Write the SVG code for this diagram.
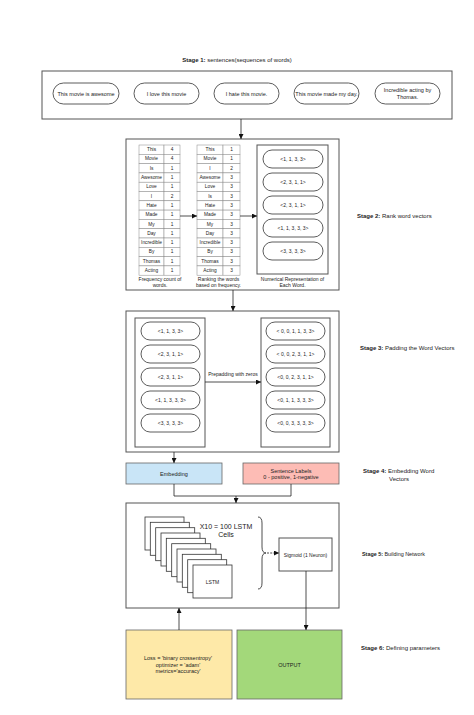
<svg xmlns="http://www.w3.org/2000/svg" width="474" height="715" viewBox="0 0 474 715">
<defs>
<marker id="arr" viewBox="0 0 10 10" refX="10" refY="5" markerWidth="5" markerHeight="5" markerUnits="userSpaceOnUse" orient="auto">
<path d="M0,0 L10,5 L0,10 z" fill="#111"/>
</marker>
<style>
text{font-family:"Liberation Sans",Arial,sans-serif;fill:#222;}
.lbl{font-size:6px;}
.b{font-weight:bold;}
.box{fill:#fff;stroke:#555;stroke-width:1;}
.pill{fill:#fff;stroke:#333;stroke-width:0.8;}
.pt{font-size:5.5px;text-anchor:middle;dominant-baseline:central;}
.vt{font-size:5px;text-anchor:middle;dominant-baseline:central;}
.cell{fill:#fff;stroke:#888;stroke-width:0.5;}
.tt{font-size:4.8px;text-anchor:middle;dominant-baseline:central;}
.cap{font-size:5px;text-anchor:middle;}
.ln{fill:none;stroke:#222;stroke-width:0.8;}
.lstm{fill:#fff;stroke:#333;stroke-width:0.8;}
</style>
</defs>

<g id="stage1-label"><text class="lbl" x="237" y="62" text-anchor="middle"><tspan class="b">Stage 1:</tspan> sentences(sequences of words)</text></g>

<g id="stage1">
<rect class="box" x="42" y="71" width="410" height="48"/>
<rect class="pill" x="53" y="83" width="66" height="21" rx="10.5"/>
<text class="pt" x="86" y="93.5">This movie is awesome</text>
<rect class="pill" x="134" y="83" width="65" height="21" rx="10.5"/>
<text class="pt" x="166.5" y="93.5">I love this movie</text>
<rect class="pill" x="214" y="83" width="65" height="21" rx="10.5"/>
<text class="pt" x="246.5" y="93.5">I hate this movie.</text>
<rect class="pill" x="294" y="83" width="65" height="21" rx="10.5"/>
<text class="pt" x="326.5" y="93.5">This movie made my day.</text>
<rect class="pill" x="375" y="83" width="65" height="21" rx="10.5"/>
<text class="pt" x="407.5" y="90">Incredible acting by</text>
<text class="pt" x="407.5" y="97">Thomas.</text>
</g>

<g id="stage2">
<rect class="box" x="126" y="139" width="213" height="151"/>
<g id="freq-table">
<g class="rows">
<rect class="cell" x="139" y="145" width="25" height="9.3"/><rect class="cell" x="164" y="145" width="16" height="9.3"/>
<rect class="cell" x="139" y="154.3" width="25" height="9.3"/><rect class="cell" x="164" y="154.3" width="16" height="9.3"/>
<rect class="cell" x="139" y="163.6" width="25" height="9.3"/><rect class="cell" x="164" y="163.6" width="16" height="9.3"/>
<rect class="cell" x="139" y="172.9" width="25" height="9.3"/><rect class="cell" x="164" y="172.9" width="16" height="9.3"/>
<rect class="cell" x="139" y="182.2" width="25" height="9.3"/><rect class="cell" x="164" y="182.2" width="16" height="9.3"/>
<rect class="cell" x="139" y="191.5" width="25" height="9.3"/><rect class="cell" x="164" y="191.5" width="16" height="9.3"/>
<rect class="cell" x="139" y="200.8" width="25" height="9.3"/><rect class="cell" x="164" y="200.8" width="16" height="9.3"/>
<rect class="cell" x="139" y="210.1" width="25" height="9.3"/><rect class="cell" x="164" y="210.1" width="16" height="9.3"/>
<rect class="cell" x="139" y="219.4" width="25" height="9.3"/><rect class="cell" x="164" y="219.4" width="16" height="9.3"/>
<rect class="cell" x="139" y="228.7" width="25" height="9.3"/><rect class="cell" x="164" y="228.7" width="16" height="9.3"/>
<rect class="cell" x="139" y="238" width="25" height="9.3"/><rect class="cell" x="164" y="238" width="16" height="9.3"/>
<rect class="cell" x="139" y="247.3" width="25" height="9.3"/><rect class="cell" x="164" y="247.3" width="16" height="9.3"/>
<rect class="cell" x="139" y="256.6" width="25" height="9.3"/><rect class="cell" x="164" y="256.6" width="16" height="9.3"/>
<rect class="cell" x="139" y="265.9" width="25" height="9.3"/><rect class="cell" x="164" y="265.9" width="16" height="9.3"/>
</g>
<text class="tt" x="151.5" y="149.65">This</text><text class="tt" x="172" y="149.65">4</text>
<text class="tt" x="151.5" y="158.95">Movie</text><text class="tt" x="172" y="158.95">4</text>
<text class="tt" x="151.5" y="168.25">Is</text><text class="tt" x="172" y="168.25">1</text>
<text class="tt" x="151.5" y="177.55">Awesome</text><text class="tt" x="172" y="177.55">1</text>
<text class="tt" x="151.5" y="186.85">Love</text><text class="tt" x="172" y="186.85">1</text>
<text class="tt" x="151.5" y="196.15">I</text><text class="tt" x="172" y="196.15">2</text>
<text class="tt" x="151.5" y="205.45">Hate</text><text class="tt" x="172" y="205.45">1</text>
<text class="tt" x="151.5" y="214.75">Made</text><text class="tt" x="172" y="214.75">1</text>
<text class="tt" x="151.5" y="224.05">My</text><text class="tt" x="172" y="224.05">1</text>
<text class="tt" x="151.5" y="233.35">Day</text><text class="tt" x="172" y="233.35">1</text>
<text class="tt" x="151.5" y="242.65">Incredible</text><text class="tt" x="172" y="242.65">1</text>
<text class="tt" x="151.5" y="251.95">By</text><text class="tt" x="172" y="251.95">1</text>
<text class="tt" x="151.5" y="261.25">Thomas</text><text class="tt" x="172" y="261.25">1</text>
<text class="tt" x="151.5" y="270.55">Acting</text><text class="tt" x="172" y="270.55">1</text>
<text class="cap" x="160" y="281">Frequency count of</text>
<text class="cap" x="160" y="287">words.</text>
</g>
<g id="rank-table">
<g class="rows">
<rect class="cell" x="197" y="145" width="26" height="9.3"/><rect class="cell" x="223" y="145" width="17" height="9.3"/>
<rect class="cell" x="197" y="154.3" width="26" height="9.3"/><rect class="cell" x="223" y="154.3" width="17" height="9.3"/>
<rect class="cell" x="197" y="163.6" width="26" height="9.3"/><rect class="cell" x="223" y="163.6" width="17" height="9.3"/>
<rect class="cell" x="197" y="172.9" width="26" height="9.3"/><rect class="cell" x="223" y="172.9" width="17" height="9.3"/>
<rect class="cell" x="197" y="182.2" width="26" height="9.3"/><rect class="cell" x="223" y="182.2" width="17" height="9.3"/>
<rect class="cell" x="197" y="191.5" width="26" height="9.3"/><rect class="cell" x="223" y="191.5" width="17" height="9.3"/>
<rect class="cell" x="197" y="200.8" width="26" height="9.3"/><rect class="cell" x="223" y="200.8" width="17" height="9.3"/>
<rect class="cell" x="197" y="210.1" width="26" height="9.3"/><rect class="cell" x="223" y="210.1" width="17" height="9.3"/>
<rect class="cell" x="197" y="219.4" width="26" height="9.3"/><rect class="cell" x="223" y="219.4" width="17" height="9.3"/>
<rect class="cell" x="197" y="228.7" width="26" height="9.3"/><rect class="cell" x="223" y="228.7" width="17" height="9.3"/>
<rect class="cell" x="197" y="238" width="26" height="9.3"/><rect class="cell" x="223" y="238" width="17" height="9.3"/>
<rect class="cell" x="197" y="247.3" width="26" height="9.3"/><rect class="cell" x="223" y="247.3" width="17" height="9.3"/>
<rect class="cell" x="197" y="256.6" width="26" height="9.3"/><rect class="cell" x="223" y="256.6" width="17" height="9.3"/>
<rect class="cell" x="197" y="265.9" width="26" height="9.3"/><rect class="cell" x="223" y="265.9" width="17" height="9.3"/>
</g>
<text class="tt" x="210" y="149.65">This</text><text class="tt" x="231.5" y="149.65">1</text>
<text class="tt" x="210" y="158.95">Movie</text><text class="tt" x="231.5" y="158.95">1</text>
<text class="tt" x="210" y="168.25">I</text><text class="tt" x="231.5" y="168.25">2</text>
<text class="tt" x="210" y="177.55">Awesome</text><text class="tt" x="231.5" y="177.55">3</text>
<text class="tt" x="210" y="186.85">Love</text><text class="tt" x="231.5" y="186.85">3</text>
<text class="tt" x="210" y="196.15">Is</text><text class="tt" x="231.5" y="196.15">3</text>
<text class="tt" x="210" y="205.45">Hate</text><text class="tt" x="231.5" y="205.45">3</text>
<text class="tt" x="210" y="214.75">Made</text><text class="tt" x="231.5" y="214.75">3</text>
<text class="tt" x="210" y="224.05">My</text><text class="tt" x="231.5" y="224.05">3</text>
<text class="tt" x="210" y="233.35">Day</text><text class="tt" x="231.5" y="233.35">3</text>
<text class="tt" x="210" y="242.65">Incredible</text><text class="tt" x="231.5" y="242.65">3</text>
<text class="tt" x="210" y="251.95">By</text><text class="tt" x="231.5" y="251.95">3</text>
<text class="tt" x="210" y="261.25">Thomas</text><text class="tt" x="231.5" y="261.25">3</text>
<text class="tt" x="210" y="270.55">Acting</text><text class="tt" x="231.5" y="270.55">3</text>
<text class="cap" x="218.5" y="281">Ranking the words</text>
<text class="cap" x="218.5" y="287">based on frequency.</text>
</g>
<g id="numeric-rep">
<rect class="box" x="257" y="145" width="71" height="129"/>
<rect class="pill" x="263" y="150" width="60" height="18" rx="9"/><text class="vt" x="293" y="159">&lt;1, 1, 3, 3&gt;</text>
<rect class="pill" x="263" y="173" width="60" height="18" rx="9"/><text class="vt" x="293" y="182">&lt;2, 3, 1, 1&gt;</text>
<rect class="pill" x="263" y="196" width="60" height="18" rx="9"/><text class="vt" x="293" y="205">&lt;2, 3, 1, 1&gt;</text>
<rect class="pill" x="263" y="219" width="60" height="18" rx="9"/><text class="vt" x="293" y="228">&lt;1, 1, 3, 3, 3&gt;</text>
<rect class="pill" x="263" y="242" width="60" height="18" rx="9"/><text class="vt" x="293" y="251">&lt;3, 3, 3, 3&gt;</text>
<text class="cap" x="292.5" y="281">Numerical Representation of</text>
<text class="cap" x="292.5" y="287">Each Word.</text>
</g>
</g>
<g id="stage2-label"><text class="lbl" x="357" y="218"><tspan class="b">Stage 2:</tspan> Rank word vectors</text></g>

<g id="stage3">
<rect class="box" x="126" y="311" width="213" height="141"/>
<g id="unpadded">
<rect class="box" x="135" y="318" width="70" height="129"/>
<rect class="pill" x="141" y="322" width="59" height="18" rx="9"/><text class="vt" x="170.5" y="331">&lt;1, 1, 3, 3&gt;</text>
<rect class="pill" x="141" y="345" width="59" height="18" rx="9"/><text class="vt" x="170.5" y="354">&lt;2, 3, 1, 1&gt;</text>
<rect class="pill" x="141" y="368" width="59" height="18" rx="9"/><text class="vt" x="170.5" y="377">&lt;2, 3, 1, 1&gt;</text>
<rect class="pill" x="141" y="391" width="59" height="18" rx="9"/><text class="vt" x="170.5" y="400">&lt;1, 1, 3, 3, 3&gt;</text>
<rect class="pill" x="141" y="414" width="59" height="18" rx="9"/><text class="vt" x="170.5" y="423">&lt;3, 3, 3, 3&gt;</text>
</g>
<g id="padded">
<rect class="box" x="261" y="318" width="69" height="129"/>
<rect class="pill" x="266" y="322" width="59" height="18" rx="9"/><text class="vt" x="295.5" y="331">&lt; 0, 0, 1, 1, 3, 3&gt;</text>
<rect class="pill" x="266" y="345" width="59" height="18" rx="9"/><text class="vt" x="295.5" y="354">&lt; 0, 0, 2, 3, 1, 1&gt;</text>
<rect class="pill" x="266" y="368" width="59" height="18" rx="9"/><text class="vt" x="295.5" y="377">&lt;0, 0, 2, 3, 1, 1&gt;</text>
<rect class="pill" x="266" y="391" width="59" height="18" rx="9"/><text class="vt" x="295.5" y="400">&lt;0, 1, 1, 3, 3, 3&gt;</text>
<rect class="pill" x="266" y="414" width="59" height="18" rx="9"/><text class="vt" x="295.5" y="423">&lt;0, 0, 3, 3, 3, 3&gt;</text>
</g>
<text class="cap" x="233" y="376">Prepadding with zeros</text>
</g>
<g id="stage3-label"><text class="lbl" x="360" y="350"><tspan class="b">Stage 3:</tspan> Padding the Word Vectors</text></g>

<g id="embedding">
<rect x="126" y="463" width="96" height="21" fill="#c9e5f7" stroke="#666" stroke-width="0.8"/>
<text class="pt" x="174" y="473.5">Embedding</text>
</g>
<g id="sentence-labels">
<rect x="243" y="463" width="96" height="21" fill="#fdbcb5" stroke="#666" stroke-width="0.8"/>
<text class="pt" x="291" y="470.5">Sentence Labels</text>
<text class="pt" x="291" y="477">0 - positive, 1-negative</text>
</g>
<g id="stage4-label">
<text class="lbl" x="363" y="473"><tspan class="b">Stage 4:</tspan> Embedding Word</text>
<text class="lbl" x="399" y="481" text-anchor="middle">Vectors</text>
</g>

<g id="stage5">
<rect class="box" x="126" y="503" width="213" height="105"/>
<g id="lstm-stack">
<rect class="lstm" x="145" y="517" width="39" height="33"/>
<rect class="lstm" x="150.3" y="522.3" width="39" height="33"/>
<rect class="lstm" x="155.7" y="527.7" width="39" height="33"/>
<rect class="lstm" x="161" y="533" width="39" height="33"/>
<rect class="lstm" x="166.3" y="538.3" width="39" height="33"/>
<rect class="lstm" x="171.7" y="543.7" width="39" height="33"/>
<rect class="lstm" x="177" y="549" width="39" height="33"/>
<rect class="lstm" x="182.3" y="554.3" width="39" height="33"/>
<rect class="lstm" x="187.7" y="559.7" width="39" height="33"/>
<rect class="lstm" x="193" y="565" width="39" height="33"/>
<text class="vt" x="212.5" y="581.5">LSTM</text>
</g>
<text x="226" y="529" font-size="7" text-anchor="middle">X10 = 100 LSTM</text>
<text x="226" y="537" font-size="7" text-anchor="middle">Cells</text>
<path class="ln" d="M258,517 Q262,517 262,523 L262,547 Q262,553 266,553 Q262,553 262,559 L262,583 Q262,589 258,589"/>
</g>
<g id="sigmoid">
<rect class="box" x="279" y="538" width="53" height="33"/>
<text class="vt" x="305.5" y="554.5">Sigmoid (1 Neuron)</text>
</g>
<g id="stage5-label"><text x="362" y="556" font-size="5.4"><tspan class="b">Stage 5:</tspan> Building Network</text></g>

<g id="loss">
<rect x="126" y="630" width="106" height="69" fill="#fee9a8" stroke="#666" stroke-width="0.8"/>
<text class="pt" x="178" y="658">Loss = 'binary crossentropy'</text>
<text class="pt" x="178" y="664.5">optimizer = 'adam'</text>
<text class="pt" x="178" y="671">metrics='accuracy'</text>
</g>
<g id="output">
<rect x="237" y="630" width="105" height="69" fill="#a3d87a" stroke="#666" stroke-width="0.8"/>
<text class="pt" x="289.5" y="664.5">OUTPUT</text>
</g>
<g id="stage6-label"><text class="lbl" x="361" y="650"><tspan class="b">Stage 6:</tspan> Defining parameters</text></g>

<g id="connectors">
<path class="ln" d="M241,119 L241,139" marker-end="url(#arr)"/>
<path class="ln" d="M180,216 L197,216" marker-end="url(#arr)"/>
<path class="ln" d="M240,216 L257,216" marker-end="url(#arr)"/>
<path class="ln" d="M233,290 L233,311" marker-end="url(#arr)"/>
<path class="ln" d="M205,382 L261,382" marker-end="url(#arr)"/>
<path class="ln" d="M174,452 L174,463" marker-end="url(#arr)"/>
<path class="ln" d="M174,484 L174,496 L291,496 L291,484"/>
<path class="ln" d="M236,496 L236,503" marker-end="url(#arr)"/>
<path class="ln" d="M267,553 L279,553" stroke-dasharray="2,1.2" marker-end="url(#arr)"/>
<path class="ln" d="M306,571 L306,630" marker-end="url(#arr)"/>
<path class="ln" d="M179,630 L179,608" marker-end="url(#arr)"/>
</g>
</svg>
